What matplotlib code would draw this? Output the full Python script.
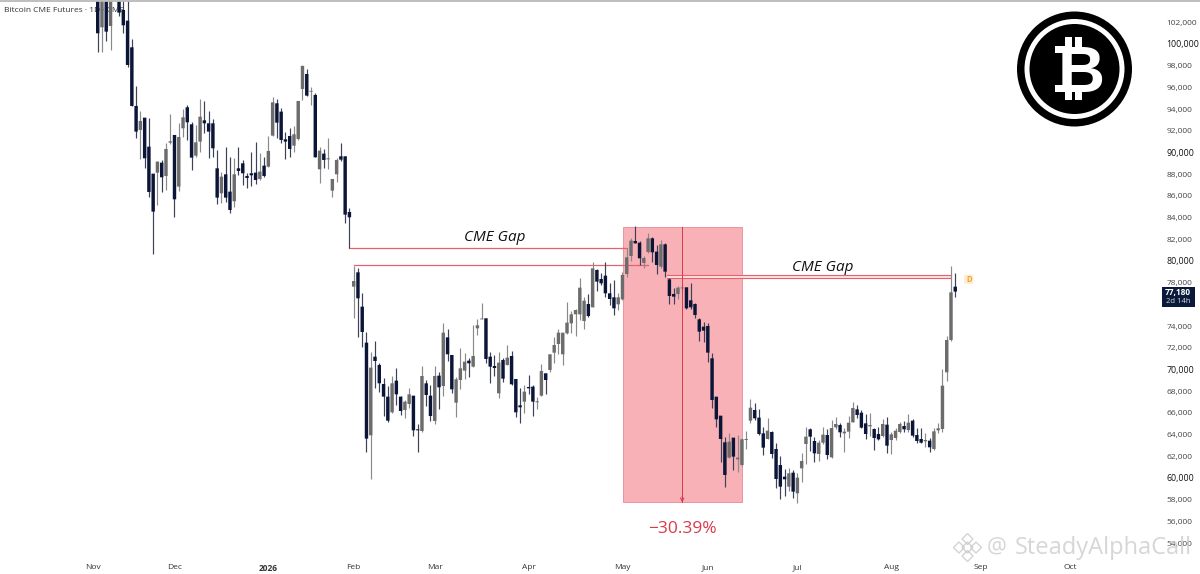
import matplotlib
matplotlib.use("Agg")
import matplotlib.pyplot as plt
from matplotlib.patches import Circle, Rectangle, FancyBboxPatch, Polygon

plt.rcParams['font.family'] = ['Open Sans', 'DejaVu Sans']

# daily candles
opens = [105000, 101536, 105400, 101659, 106000, 105500, 103133, 102150, 99693, 94286,
         92074, 93211, 90538, 88050, 88142, 89064, 87835, 90907, 91613, 86852,
         92228, 94163, 92596, 89709, 90999, 92965, 92689, 92689, 88541, 86237,
         87988, 86391, 85500, 88541, 89002, 87835, 88081, 88142, 87558, 88787,
         88695, 91552, 94532, 93764, 91214, 91521, 90630, 91245, 95853, 97235,
         95607, 95300, 88449, 89893, 89371, 86483, 87988, 89647, 89647, 84517,
         77634, 78955, 75791, 72473, 63933, 71183, 70415, 68664, 67496, 66052,
         68971, 67496, 66267, 66820, 67588, 64486, 64332, 68725, 67588, 65254,
         69432, 68479, 72964, 71336, 66943, 69032, 69892, 70814, 70261, 73794,
         74623, 74715, 71183, 70322, 67803, 70875, 70415, 71244, 69124, 66697,
         67035, 68387, 68418, 66974, 67588, 69647, 69954, 71551, 72350, 71398,
         73333, 74255, 75084, 75084, 74470, 76036, 75729, 79170, 78340, 78648,
         77019, 76651, 76006, 76466, 78801, 80460, 81843, 81689, 79815, 80829,
         82088, 80860, 79477, 81535, 78310, 76958, 76958, 77480, 77573, 76374,
         76037, 74623, 73948, 74009, 71029, 67496, 65745, 63288, 61875, 63718,
         61721, 61199, 63503, 65283, 66266, 65559, 64115, 63593, 64238, 62672,
         61197, 60122, 59200, 60490, 58586, 60890, 63132, 64484, 63409, 62211,
         63255, 63962, 61904, 64668, 64883, 64115, 64269, 65129, 66327, 66020,
         65037, 64760, 64515, 64054, 63870, 64914, 63501, 63685, 64238, 64791,
         64422, 65283, 63962, 63593, 63378, 63439, 62672, 64392, 64516, 69739,
         72719, 77634]
highs = [105600, 105500, 105800, 105700, 106400, 106000, 104400, 104300, 100461, 96129,
         93856, 93211, 93149, 88050, 89217, 89309, 90845, 93549, 91613, 92689,
         94010, 94409, 92842, 92535, 94931, 94778, 93825, 93057, 90231, 88234,
         90538, 89617, 89463, 90538, 89309, 88081, 90016, 90999, 89924, 89617,
         91521, 95146, 94900, 94071, 91921, 92228, 92443, 94747, 98065, 97696,
         96006, 95515, 90538, 90323, 91306, 87558, 89524, 90845, 89647, 84855,
         79538, 79323, 77081, 73487, 71643, 72657, 70568, 69186, 68479, 69401,
         70107, 67588, 67189, 68264, 67588, 64977, 70322, 69032, 68571, 70322,
         69800, 74316, 73732, 71336, 69339, 71951, 71490, 71029, 74101, 74623,
         76098, 74715, 71643, 71336, 71643, 71029, 72258, 71705, 69124, 68326,
         68571, 69493, 68571, 67496, 70507, 69708, 71429, 73026, 73702, 73394,
         76251, 75391, 75545, 78463, 76712, 76958, 79938, 79231, 78924, 79876,
         77941, 78248, 77019, 79016, 81167, 82088, 83225, 81873, 80460, 82611,
         82181, 81474, 81935, 81628, 78402, 77480, 77695, 77788, 77634, 78003,
         76098, 74716, 74408, 74255, 71551, 67496, 65745, 63810, 64179, 63718,
         63964, 63656, 64363, 67249, 66880, 66358, 64730, 65559, 64361, 63194,
         62026, 60798, 60951, 60736, 60429, 62272, 64668, 64638, 63747, 63501,
         64730, 64484, 65344, 65651, 65098, 64576, 65713, 66972, 66727, 66266,
         65866, 65959, 64576, 64730, 65406, 65651, 64208, 64576, 65191, 65283,
         65897, 65406, 64576, 64576, 64115, 63654, 64576, 65098, 70015, 73087,
         79569, 78863]
lows = [99232, 99293, 100307, 99447, 104500, 102611, 101044, 97911, 94286, 91306,
        89371, 88603, 85930, 80646, 85162, 86391, 86545, 90784, 84087, 86483,
        91398, 91153, 88388, 89617, 90077, 91767, 89463, 89617, 85254, 85316,
        85408, 84456, 85009, 87927, 87005, 86698, 86913, 87067, 87466, 87773,
        88695, 91552, 91306, 90845, 89402, 89617, 90077, 91153, 94839, 95238,
        94347, 89555, 87220, 88541, 88480, 85869, 87313, 89248, 83473, 81169,
        74715, 73026, 72104, 62366, 59908, 68326, 67957, 65745, 65131, 65960,
        66728, 65807, 65561, 66421, 63871, 62427, 64271, 66667, 65284, 64977,
        66360, 67588, 70783, 67803, 65592, 68172, 69094, 69278, 70200, 73179,
        74623, 70568, 68725, 69401, 67343, 68879, 70415, 68571, 65653, 65039,
        65960, 67742, 65745, 66360, 67558, 67711, 69800, 70568, 71429, 70415,
        73272, 73333, 73118, 74562, 73732, 74869, 75729, 77234, 77787, 76712,
        75944, 75023, 75483, 76405, 78556, 80030, 81628, 79631, 79324, 80706,
        79938, 78801, 79324, 78556, 76037, 76037, 76467, 77173, 75576, 75545,
        74777, 72657, 72565, 70722, 66421, 64732, 61506, 59202, 61814, 60738,
        60584, 61138, 62643, 65037, 65344, 63962, 62118, 63593, 61811, 59108,
        58064, 58340, 58801, 58125, 57726, 59600, 61289, 62518, 61504, 61596,
        63132, 61750, 61811, 64484, 63808, 62426, 63716, 65129, 65498, 64576,
        63593, 63900, 62579, 63501, 63747, 62272, 62211, 63501, 64177, 64269,
        64269, 63808, 63194, 63194, 62825, 62364, 62579, 64115, 64271, 68971,
        72657, 76712]
closes = [100983, 105200, 101137, 105300, 104800, 102888, 101720, 98065, 94286, 91921,
          92904, 89463, 86360, 84548, 89156, 87712, 90323, 91030, 85684, 91429,
          93242, 92781, 89524, 90938, 93303, 92689, 91921, 90385, 85838, 87773,
          85838, 84701, 87988, 88296, 88081, 87651, 87896, 87466, 88234, 87835,
          90139, 94624, 92750, 91153, 90999, 90323, 91675, 94747, 97972, 95238,
          95668, 89555, 90170, 89309, 89463, 87558, 89309, 89340, 84271, 84026,
          78156, 76559, 73456, 63625, 70169, 70783, 68725, 67496, 65284, 68725,
          67711, 66175, 67035, 67711, 64393, 64393, 69401, 67650, 65714, 69401,
          68356, 73394, 71398, 68172, 69094, 70107, 70722, 70568, 71244, 74070,
          74685, 70968, 70261, 70138, 70630, 69155, 71090, 68633, 66052, 66513,
          67957, 68264, 67035, 67066, 69862, 69032, 71398, 72258, 73394, 73394,
          74316, 75084, 75483, 77542, 76344, 74930, 79323, 78095, 77941, 77019,
          76497, 75637, 76651, 78709, 80337, 81873, 81628, 80245, 80276, 82088,
          80798, 79631, 81535, 79016, 76774, 76712, 77542, 77542, 75637, 75729,
          75023, 73487, 73579, 71551, 67189, 65407, 63595, 60277, 63349, 61967,
          61875, 63564, 63595, 66481, 65498, 64054, 62794, 64361, 62211, 59907,
          59200, 59876, 60429, 58739, 60030, 61566, 63808, 63808, 62272, 63255,
          63993, 62118, 64607, 64976, 64208, 64269, 65098, 66450, 65805, 64638,
          64054, 64883, 63685, 63562, 64976, 62979, 64023, 64361, 64976, 64484,
          65098, 63900, 63409, 63255, 63501, 62825, 64300, 64576, 68510, 72719,
          77112, 77180]

month_pos = [-1, 18, 40, 60, 79, 101, 123, 143, 164, 186, 207, 228]
month_labels = ['Nov', 'Dec', '2026', 'Feb', 'Mar', 'Apr', 'May', 'Jun', 'Jul', 'Aug', 'Sep', 'Oct']
price_ticks = list(range(54000, 104000, 2000))

gap1_price, gap1_from, gap1_to = 81197, 59, 124
gap2_price, gap2_from, gap2_to = 79630, 60, 129
gap3_prices, gap3_from, gap3_to = (78709, 78387), 133.4, 200
drop_from, drop_to = 123.05, 151.1
drop_top, drop_bottom = 83160, 57750
drop_mid = 137
drop_pct = '\u221230.39%'

NAVY = '#0b1538'
GRAY = '#6c6c6c'
RED = '#e8606c'

fig = plt.figure(figsize=(12, 5.74), dpi=100, facecolor='white')
ax = fig.add_axes([0, 18 / 574, 1137 / 1200, 555 / 574])
ax.set_xlim(-22.9, 243.6)
ax.set_ylim(52810, 103960)
for s in ax.spines.values():
    s.set_visible(False)

# overlay in image pixels for the badge, logo and watermark
over = fig.add_axes([0, 0, 1, 1], zorder=10)
over.set_xlim(0, 1200)
over.set_ylim(574, 0)
over.axis('off')
over.patch.set_alpha(0)

# chart title sits behind the candles
ax.text(4, 10, 'Bitcoin CME Futures \u00b7 1D \u00b7 CME', fontsize=6, color='#333333', va='center',
        transform=over.transData, zorder=1)

# pink drop box and the lines under the candles
ax.add_patch(Rectangle((drop_from, drop_bottom), drop_to - drop_from, drop_top - drop_bottom,
                       facecolor='#f9b1b8', edgecolor='#e88a94', lw=0.6, zorder=1))
ax.plot([gap1_from, gap1_to], [gap1_price, gap1_price], color=RED, lw=0.9, zorder=2)
ax.plot([gap2_from, gap2_to], [gap2_price, gap2_price], color=RED, lw=0.9, zorder=2)
ax.fill_between([gap3_from, gap3_to], gap3_prices[1], gap3_prices[0], color='#fbe3e5', lw=0, zorder=1)
for p in gap3_prices:
    ax.plot([gap3_from, gap3_to], [p, p], color=RED, lw=0.8, zorder=2)

# candles
xs = list(range(len(opens)))
for x, o, h, l, c in zip(xs, opens, highs, lows, closes):
    up = c > o
    ax.vlines(x, l, h, color='#8a8a8a' if up else '#3c4256', lw=0.85, zorder=3)
    ax.bar(x, max(abs(c - o), 70), bottom=min(o, c), width=0.8,
           color=GRAY if up else NAVY, lw=0, zorder=4, snap=False)

# drop arrow
ax.plot([drop_mid, drop_mid], [drop_top, drop_bottom], color='#d63a48', lw=0.7, zorder=5)
ax.annotate('', xy=(drop_mid, drop_bottom), xytext=(drop_mid, drop_bottom + 600),
            arrowprops=dict(arrowstyle='->', color='#d63a48', lw=0.7, shrinkA=0, shrinkB=0,
                            mutation_scale=6), zorder=5)
ax.text(drop_mid, 55300, drop_pct, color='#d8394b', fontsize=12.5, ha='center', va='center', zorder=6)

ax.text(93, 82200, 'CME Gap', fontsize=11, style='italic', color='#111111', ha='center', va='center', zorder=6)
ax.text(170, 79420, 'CME Gap', fontsize=11, style='italic', color='#111111', ha='center', va='center', zorder=6)

# axes labels
ax.set_xticks(month_pos)
ax.set_xticklabels(month_labels, fontsize=6, color='#333333')
ax.yaxis.tick_right()
ax.set_yticks(price_ticks)
# 76,000 is hidden behind the last price tag
ax.set_yticklabels(['' if p == 76000 else f'{p:,}' for p in price_ticks], fontsize=6, color='#444444')
ax.tick_params(axis='both', length=0)
ax.tick_params(axis='x', pad=6)
ax.tick_params(axis='y', pad=21)
for p, lab in zip(price_ticks, ax.get_yticklabels()):
    if p % 10000 == 0:
        lab.set_color('#111111')
        lab.set_fontsize(6.3)
for pos, lab in zip(month_pos, ax.get_xticklabels()):
    if lab.get_text() == '2026':
        lab.set_fontweight('bold')

over.plot([0, 1200], [0.6, 0.6], color='#b9b9b9', lw=1.3)

# last price tag
over.add_patch(Rectangle((1161.5, 287), 33, 20, facecolor='#0b1a3a', lw=0))
over.text(1178, 292.5, '77,180', color='white', fontsize=6, fontweight='bold', ha='center', va='center')
over.text(1178, 301.5, '2d 14h', color='#d5d9e2', fontsize=5.5, ha='center', va='center')

# D badge
over.add_patch(FancyBboxPatch((965, 275.5), 7.5, 7.5, boxstyle='round,pad=0.8',
                              facecolor='#fdeccf', edgecolor='none'))
over.text(968.8, 279.3, 'D', color='#f0a030', fontsize=5.5, fontweight='bold', ha='center', va='center')

# bitcoin logo
cx, cy = 1074.5, 69
over.add_patch(Circle((cx, cy), 57.5, facecolor='black', lw=0))
over.add_patch(Circle((cx, cy), 50, facecolor='white', lw=0))
over.add_patch(Circle((cx, cy), 45, facecolor='black', lw=0))
for bx in (1065, 1075):
    over.add_patch(Rectangle((bx, 37), 6.5, 10, facecolor='white', lw=0))
    over.add_patch(Rectangle((bx, 90), 6.5, 10, facecolor='white', lw=0))
over.add_patch(Rectangle((1054.5, 46), 12, 7, facecolor='white', lw=0))
over.add_patch(Rectangle((1054.5, 85), 12, 7, facecolor='white', lw=0))
over.text(1081, 69, 'B', color='white', fontsize=47, fontweight='bold', family='Liberation Sans',
          ha='center', va='center_baseline')

# watermark
wm = '#c9c9c9'
over.text(1015, 547.5, 'SteadyAlphaCall', color=wm, fontsize=17, alpha=0.75, ha='left', va='center')
over.text(997, 547.5, '@', color=wm, fontsize=16, alpha=0.75, ha='center', va='center')
for dx, dy in [(967.5, 539), (959, 547.5), (976, 547.5), (967.5, 547.5), (967.5, 556)]:
    over.add_patch(Polygon([(dx, dy - 5.5), (dx + 5.5, dy), (dx, dy + 5.5), (dx - 5.5, dy)],
                           closed=True, facecolor='none', edgecolor=wm, lw=1.0, alpha=0.8))

fig.savefig('out.png', dpi=100)
